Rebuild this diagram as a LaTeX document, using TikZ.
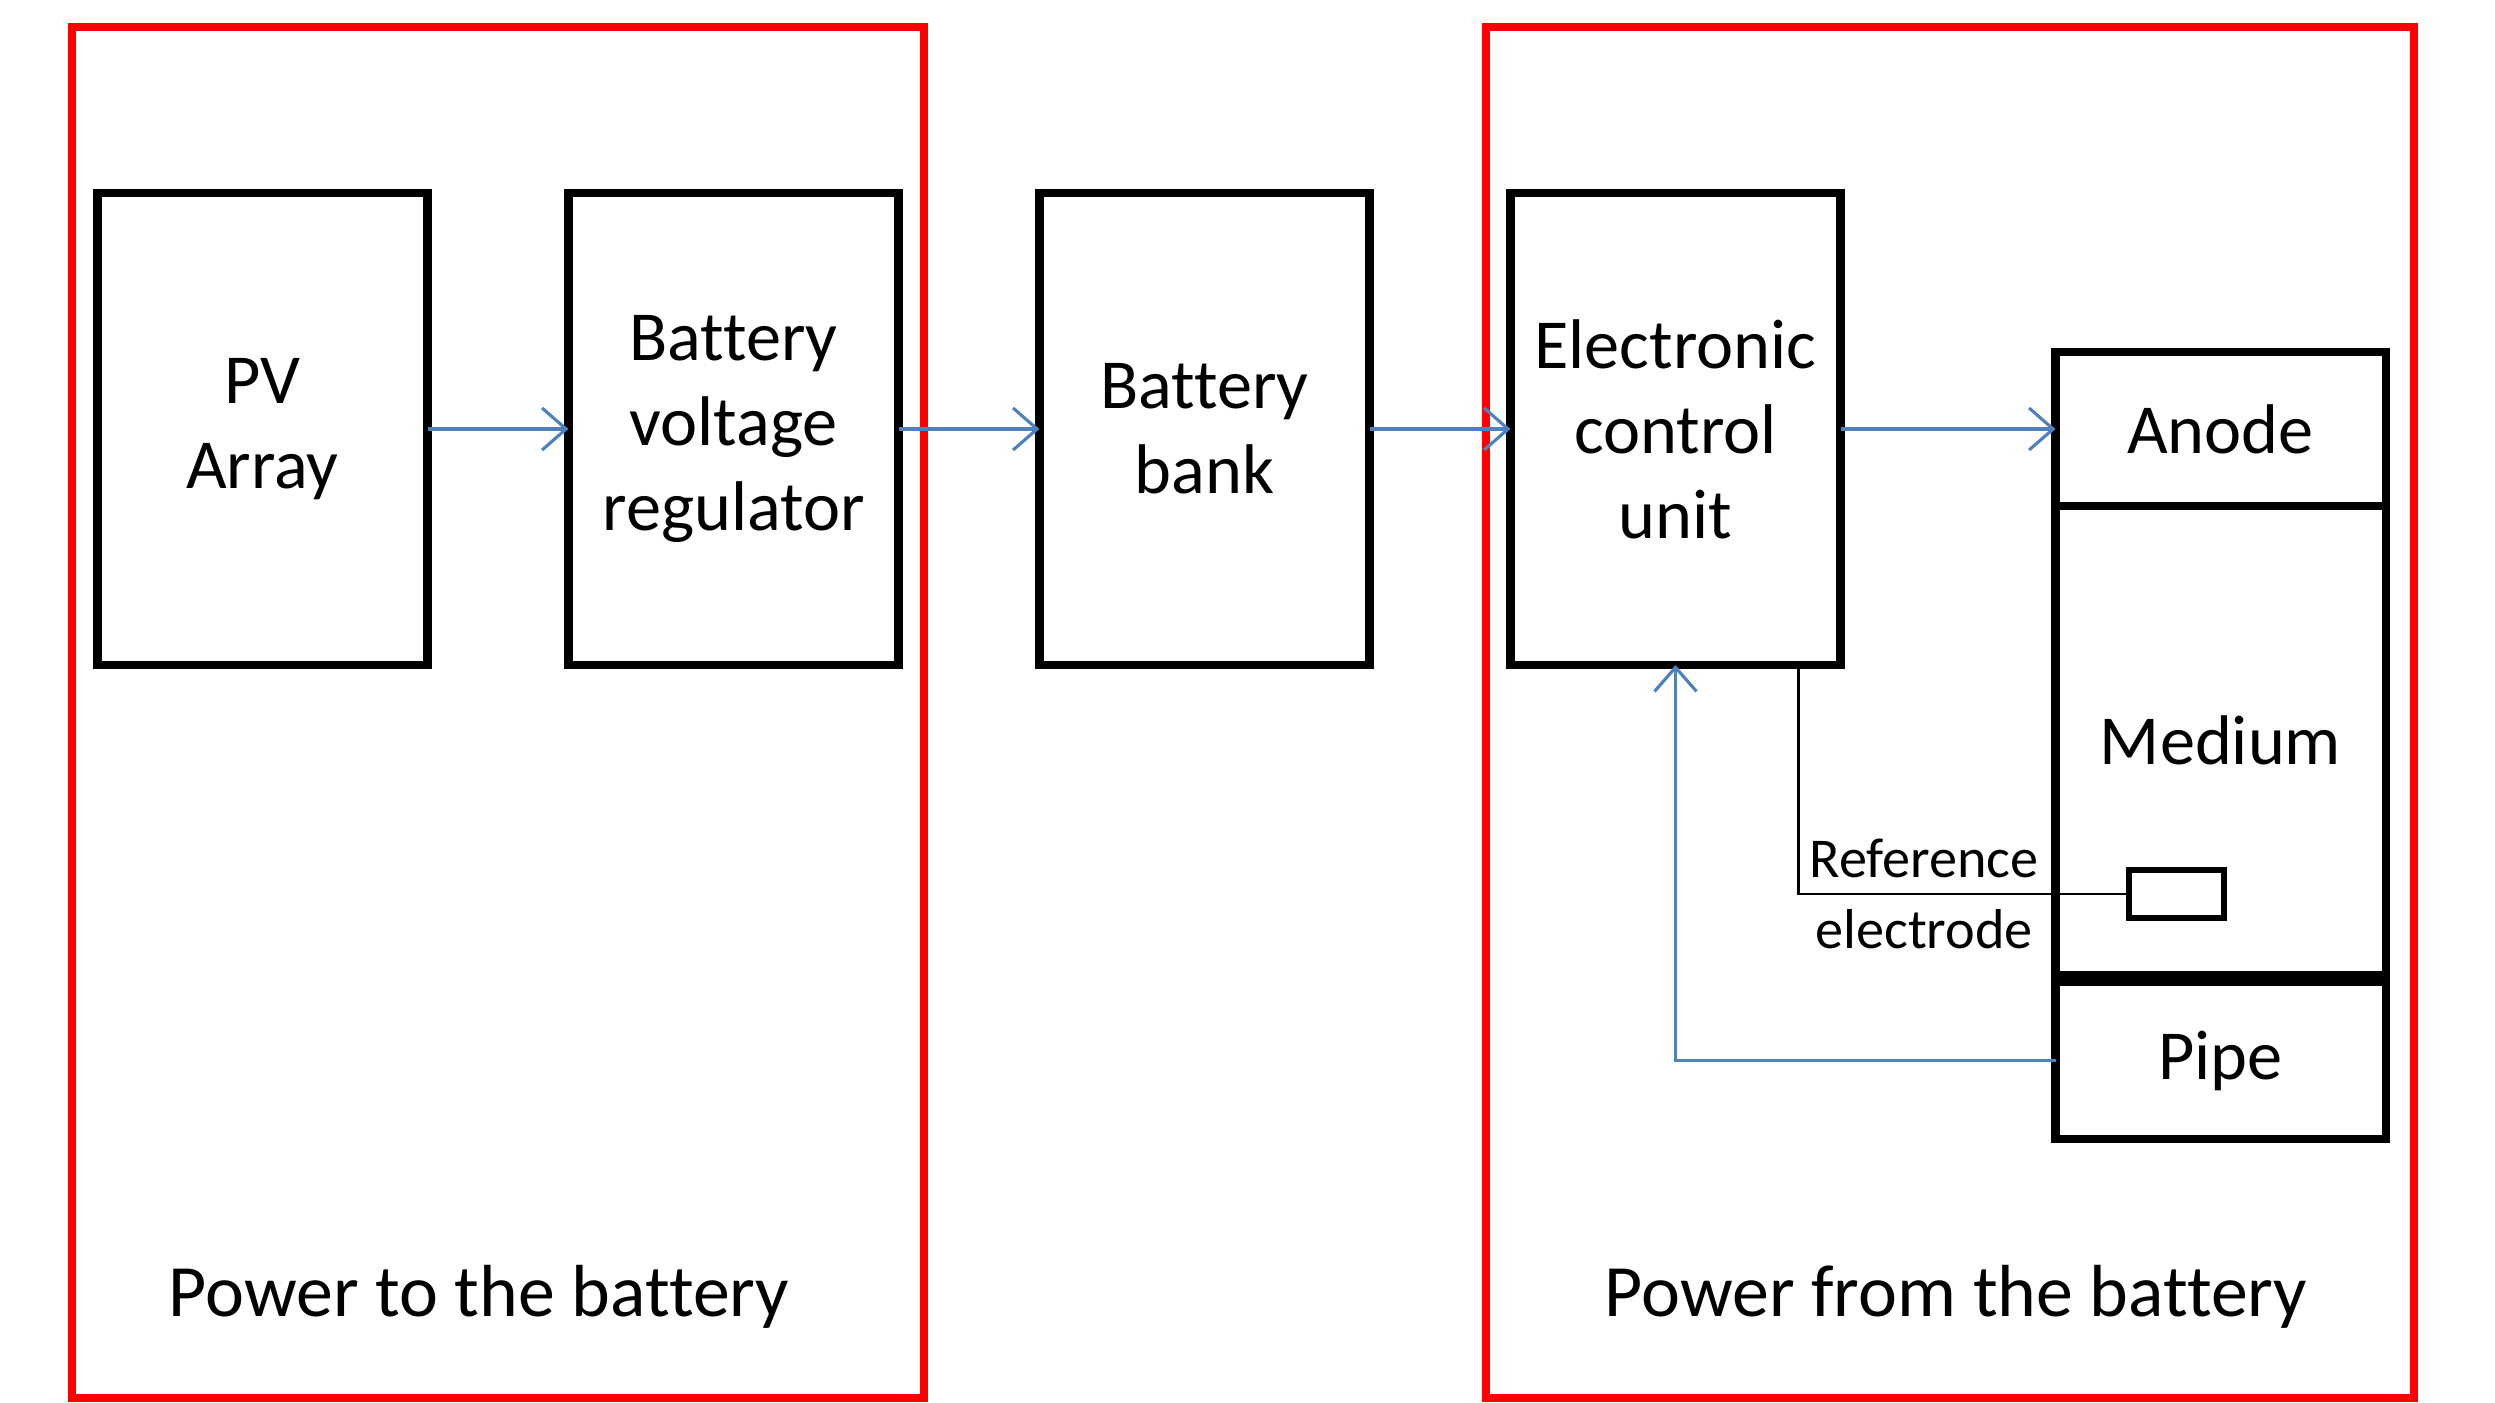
\documentclass[tikz,border=0pt]{standalone}
\usepackage{fontspec}
\setmainfont{Carlito}[Ligatures=NoCommon]
\usepackage{tikz}
\usetikzlibrary{arrows.meta,positioning}
\definecolor{flowblue}{RGB}{79,129,189}

\begin{document}
\begin{tikzpicture}[node distance=14.1mm,
   box/.style={draw,line width=2.3pt,minimum width=3.30cm,minimum height=4.72cm,
               outer sep=0pt,align=center,font=\fontsize{20}{24.2}\selectfont},
   grp/.style={draw=red,line width=2.5pt,outer sep=0pt},
   flow/.style={draw=flowblue,line width=0.9pt,-{Straight Barb[length=2.4mm,width=4.2mm]}},
   wire/.style={line width=0.8pt},
   lbl/.style={font=\fontsize{21}{25}\selectfont}]
  \useasboundingbox (0,0) rectangle (24.95,-14.02);
  % the two groups
  \node[grp,minimum width=8.52cm,minimum height=13.71cm] (gto) at (4.98,-7.125) {};
  \node[grp,minimum width=9.28cm,minimum height=13.71cm] (gfrom) at (19.50,-7.125) {};
  \node[lbl] (tto) at (4.79,-12.97) {Power to the battery};
  \node[lbl] (tfrom) at (19.56,-12.97) {Power from the battery};
  % main chain
  \node[box] (pv) at (2.625,-4.29) {PV\\Array};
  \node[box,right=of pv] (reg) {Battery\\voltage\\regulator};
  \node[box,right=of reg] (bank) {Battery\\bank};
  \node[box,right=of bank] (ecu) {Electronic\\control\\unit};
  % cell
  \node[box,minimum height=1.54cm,right=21.5mm of ecu] (anode) {Anode};
  \node[box,minimum height=4.69cm,below=0mm of anode] (medium) {Medium};
  \node[box,minimum height=1.57cm,below=0.7mm of medium] (pipe) {Pipe};
  \node[draw,line width=1.8pt,minimum width=0.95cm,minimum height=0.48cm,
        outer sep=0pt] (ref) at (21.765,-8.94) {};
  \node[align=center,font=\fontsize{16}{20}\selectfont] (reflbl) at (19.24,-8.94)
       {Reference\\electrode};
  \draw[flow] (pv) -- (reg);
  \draw[flow] (reg) -- (bank);
  \draw[flow] (bank) -- (ecu);
  \draw[flow] (ecu) -- (anode);
  \draw[flow] (pipe.west) -| (ecu.south);
  \draw[wire] ([xshift=-4.2mm]ecu.south east) |- (ref.west);
\end{tikzpicture}
\end{document}
